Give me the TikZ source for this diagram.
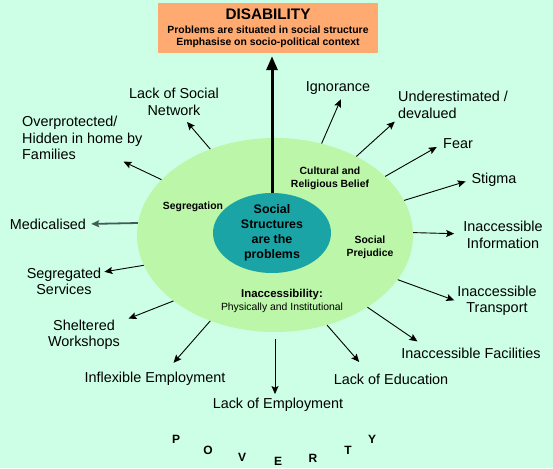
\documentclass[tikz,border=0pt]{standalone}
\usepackage{fontspec}
\setmainfont{Liberation Sans}
\usepackage{tikz}
\usetikzlibrary{arrows.meta,positioning,calc,shapes.geometric}
\definecolor{bgmint}{RGB}{204,255,230}
\definecolor{ringgreen}{RGB}{188,246,168}
\definecolor{coreteal}{RGB}{26,164,166}
\definecolor{boxorange}{RGB}{255,170,112}
\definecolor{medgray}{RGB}{66,90,90}
\tikzstyle{outcome}=[font=\fontsize{14.4}{16.3}\selectfont,align=center,inner sep=1pt]
\tikzstyle{cause}=[font=\fontsize{10.4}{13}\selectfont\bfseries,align=center,inner sep=1pt]
\tikzstyle{ring}=[ellipse,fill=ringgreen,minimum width=276pt,minimum height=194pt,inner sep=0pt]
\tikzstyle{core}=[ellipse,fill=coreteal,minimum width=118pt,minimum height=80pt,inner sep=0pt,
  align=center,font=\fontsize{12.4}{15}\selectfont\bfseries]
\tikzstyle{headline}=[fill=boxorange,minimum width=220pt,minimum height=50pt,inner sep=0pt,
  align=center,font=\fontsize{10.4}{11.8}\selectfont\bfseries]
\tikzstyle{spoke}=[-{Stealth[length=8pt,width=7pt,inset=1.5pt]},line width=0.9pt]
\tikzstyle{letter}=[font=\fontsize{12}{14}\selectfont\bfseries,inner sep=0pt]

\begin{document}
\begin{tikzpicture}[x=1pt,y=-1pt]
\useasboundingbox (0,0) rectangle (553,468);
\fill[bgmint] (0,0) rectangle (553,468);

\node [headline] (dis) at (268,28) {{\fontsize{15.3}{17}\selectfont DISABILITY}\\[2.4pt]
  Problems are situated in social structure\\Emphasise on socio-political context};

\node [ring] (outer) at (275,235) {};
\node [core] (core) at (272,233) {Social\\Structures\\are the\\problems};

% labels inside the ring
\node [cause] (seg) at (193,207) {Segregation};
\node [cause] (cult) at (330,178) {Cultural and\\Religious Belief};
\node [cause] (prej) at (370,247) {Social\\Prejudice};
\node [cause] (inacc) at (282,301) {{\fontsize{11.4}{13}\selectfont Inaccessibility:}\\
  {\mdseries Physically and Institutional}};

% outcomes round the ring
\node [outcome] (lsn) at (174,102) {Lack of Social\\Network};
\node [outcome,anchor=west,align=left] (ovp) at (21,138) {Overprotected/\\Hidden in home by\\Families};
\node [outcome] (med) at (48,224) {Medicalised};
\node [outcome] (sgs) at (64,281) {Segregated\\Services};
\node [outcome] (shw) at (84,335) {Sheltered\\Workshops};
\node [outcome] (infl) at (155,379) {Inflexible Employment};
\node [outcome] (lemp) at (278,405) {Lack of Employment};
\node [outcome] (ledu) at (391,379) {Lack of Education};
\node [outcome] (fac) at (471,353) {Inaccessible Facilities};
\node [outcome] (trn) at (497,301) {Inaccessible\\Transport};
\node [outcome] (info) at (503,235) {Inaccessible\\Information};
\node [outcome] (stg) at (494,180) {Stigma};
\node [outcome] (fear) at (458,144) {Fear};
\node [outcome,anchor=west,align=left] (und) at (397,105) {Underestimated /\\devalued};
\node [outcome] (ign) at (338,88) {Ignorance};

\draw [line width=3pt,-{Triangle[length=14pt,width=11pt]},shorten >=3pt]
  (core.north) -- (core.north |- dis.south);

\foreach \a/\t/\s in {127/lsn.-60/7pt, 154/ovp.-30/2pt, 193/sgs.13/2pt, 213/shw.20/8pt,
    233/infl.35/11pt, 300/ledu.164/14pt, 322/fac.172/9pt, 340/trn.west/2pt, 1/info/8pt,
    15/stg.west/5pt, 28/fear.west/6pt, 44/und.south west/3pt, 63/ign.-60/4pt}
  \draw [spoke,shorten >=\s] (outer.\a) -- (\t);
\draw [spoke,medgray,line width=1.8pt,shorten >=4pt] (outer.175) -- (med.east);
\draw [spoke,shorten <=7pt,shorten >=3pt] (outer.south) -- (outer.south |- lemp.north);

% poverty along the bottom
\foreach \ch/\px/\py in {P/176/439, O/208/450, V/242/457, E/278/461, R/313/458, T/348/450, Y/372/439}
  \node [letter] (pov\ch) at (\px,\py) {\ch};
\end{tikzpicture}
\end{document}
